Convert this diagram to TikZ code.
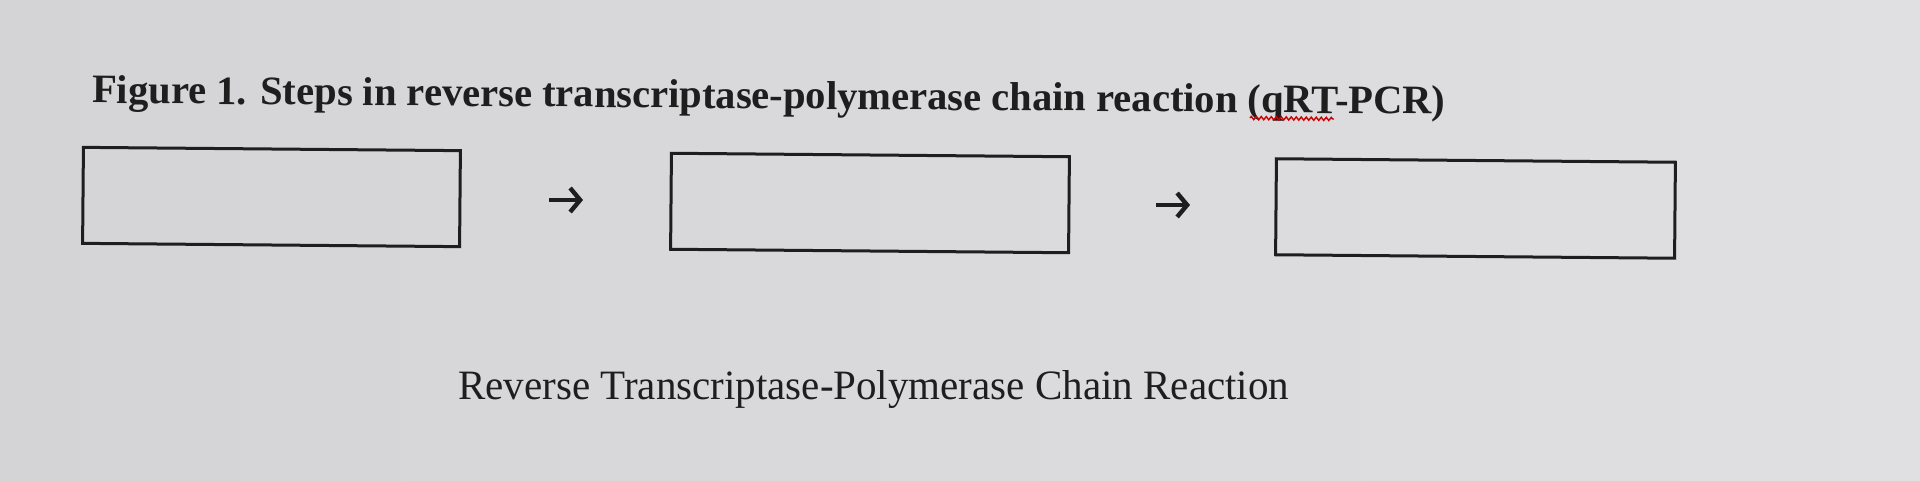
\documentclass[tikz,border=0pt]{standalone}
\usepackage{fontspec}
\setmainfont{Liberation Serif}
\usetikzlibrary{arrows.meta,decorations.pathmorphing}
\definecolor{bgl}{RGB}{212,212,214}
\definecolor{bgr}{RGB}{224,224,227}
\definecolor{ink}{RGB}{30,30,30}
\begin{document}
\begin{tikzpicture}[x=1pt,y=-1pt,
  stepbox/.style={draw=ink, line width=3pt, rotate=-0.5, inner sep=0pt, minimum height=96pt},
  arr/.style={draw=ink, line width=4.4pt, -{Straight Barb[length=10pt,width=24pt]}},
  txt/.style={inner sep=0pt, anchor=base west, text=ink, rotate=-0.47}]
\shade[left color=bgl, right color=bgr] (0,0) rectangle (1920,481);
\useasboundingbox (0,0) rectangle (1920,481);
\node[txt] (title) at (92,103) {\resizebox{1353pt}{28pt}{\bfseries Figure 1. Steps in reverse transcriptase-polymerase chain reaction (qRT-PCR)}};
\draw[red!80!black, line width=1.4pt, decorate, decoration={zigzag, segment length=5pt, amplitude=1.6pt}] (1250,118) -- (1334,119);
\node[stepbox, minimum width=377pt] (b1) at (271.5,197) {};
\node[stepbox, minimum width=398pt] (b2) at (870,203) {};
\node[stepbox, minimum width=399pt] (b3) at (1475.5,208.5) {};
\coordinate (a1s) at (549,200);
\coordinate (a1e) at (583,200);
\coordinate (a2s) at (1156,205);
\coordinate (a2e) at (1190,205);
\draw[arr] (a1s) -- (a1e);
\draw[arr] (a2s) -- (a2e);
\node[txt, rotate=0.47] (caption) at (458,399) {\resizebox{831pt}{29pt}{Reverse Transcriptase-Polymerase Chain Reaction}};
\end{tikzpicture}
\end{document}
